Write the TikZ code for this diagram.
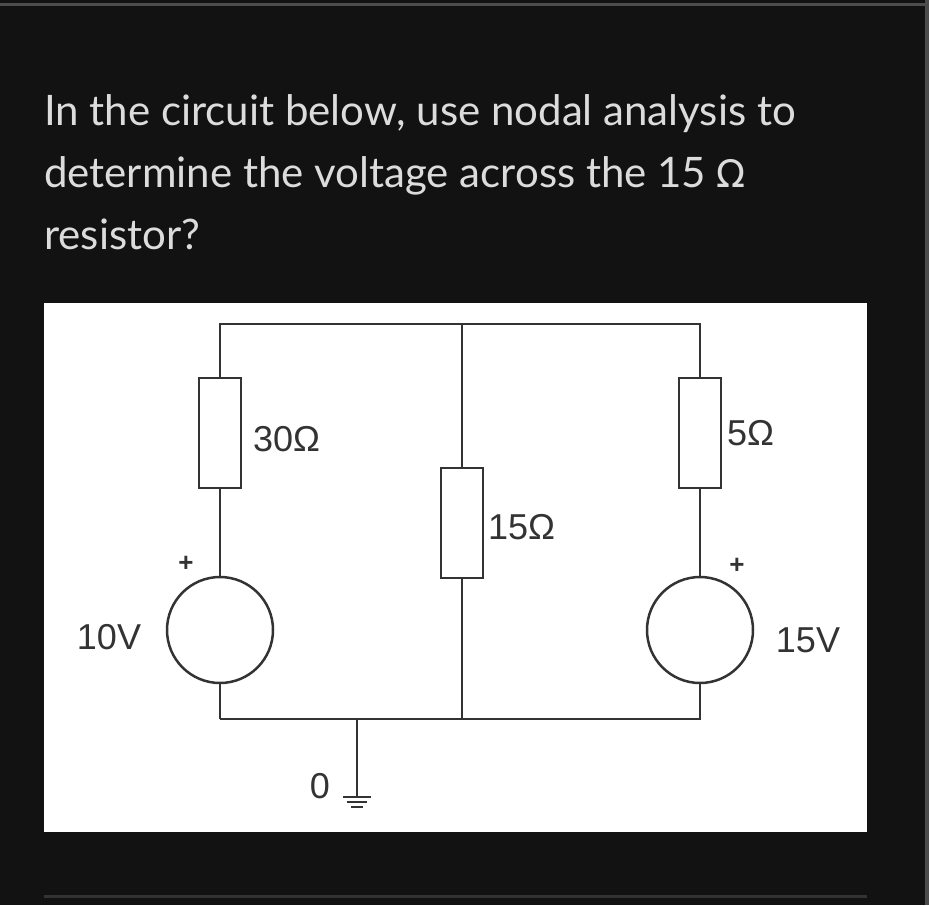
\documentclass[tikz,border=0pt]{standalone}
\usepackage{fontspec}
\setmainfont{Lato}
\newfontfamily\arialf{Liberation Sans}
\definecolor{bg}{HTML}{121212}
\definecolor{txt}{HTML}{DCDCDC}
\definecolor{wire}{HTML}{333333}
\begin{document}
\begin{tikzpicture}[x=1pt,y=-1pt,
  w/.style={draw=wire,line width=2.5pt},
  res/.style={draw=wire,line width=2.5pt,fill=white,minimum width=42pt,minimum height=110pt,inner sep=0pt},
  src/.style={circle,draw=wire,line width=2.5pt,minimum size=106pt,inner sep=0pt},
  lab/.style={text=wire,font=\arialf\fontsize{36}{38}\selectfont,inner sep=0pt},
  q/.style={text=txt,font=\fontsize{42}{50}\selectfont,anchor=base west,inner sep=0pt}]
\fill[bg] (0,0) rectangle (929,905);
\useasboundingbox (0,0) rectangle (929,905);
\fill[gray!60!black] (0,3) rectangle (926,6);
\fill[gray!60!black] (925,0) rectangle (929,905);
\fill[wire] (44,895) rectangle (867,898);
\node[q] (l1) at (44,125) {In the circuit below, use nodal analysis to};
\node[q] (l2) at (44,187) {determine the voltage across the 15 \fontspec{DejaVu Sans}\fontsize{38}{50}\selectfont Ω};
\node[q] (l3) at (44,249) {resistor?};
\fill[white] (44,303) rectangle (867,832);
\coordinate (tl) at (220,324); \coordinate (tm) at (462,324); \coordinate (tr) at (700,324);
\coordinate (bl) at (220,719); \coordinate (bm) at (462,719); \coordinate (br) at (700,719);
\coordinate (g) at (357,719); \coordinate (gb) at (357,797);
\draw[w] (bl) -- (tl) -- (tr) -- (br) -- (bl);
\draw[w] (tm) -- (bm);
\draw[w] (g) -- (gb);
\draw[wire,line width=2.2pt] (343,797) -- (371,797) (347,802) -- (367,802) (351,807) -- (363,807);
\node[res] (r30) at (220,433) {};
\node[res] (r15) at (462,523) {};
\node[res] (r5) at (700,433) {};
\node[src,fill=white] (v10) at (220,630) {};
\node[src,fill=white] (v15) at (700,630) {};
\node[lab,anchor=west] (t30) at (253,439) {30Ω};
\node[lab,anchor=west] (t15) at (488,527) {15Ω};
\node[lab,anchor=west] (t5) at (727,433) {5Ω};
\node[lab] (t10v) at (109,637) {10V};
\node[lab] (t15v) at (808,640) {15V};
\node[lab,font=\arialf\bfseries\fontsize{26}{26}\selectfont] (p1) at (186,564) {+};
\node[lab,font=\arialf\bfseries\fontsize{26}{26}\selectfont] (p2) at (737,566) {+};
\node[lab] (t0) at (320,786) {0};
\end{tikzpicture}
\end{document}
